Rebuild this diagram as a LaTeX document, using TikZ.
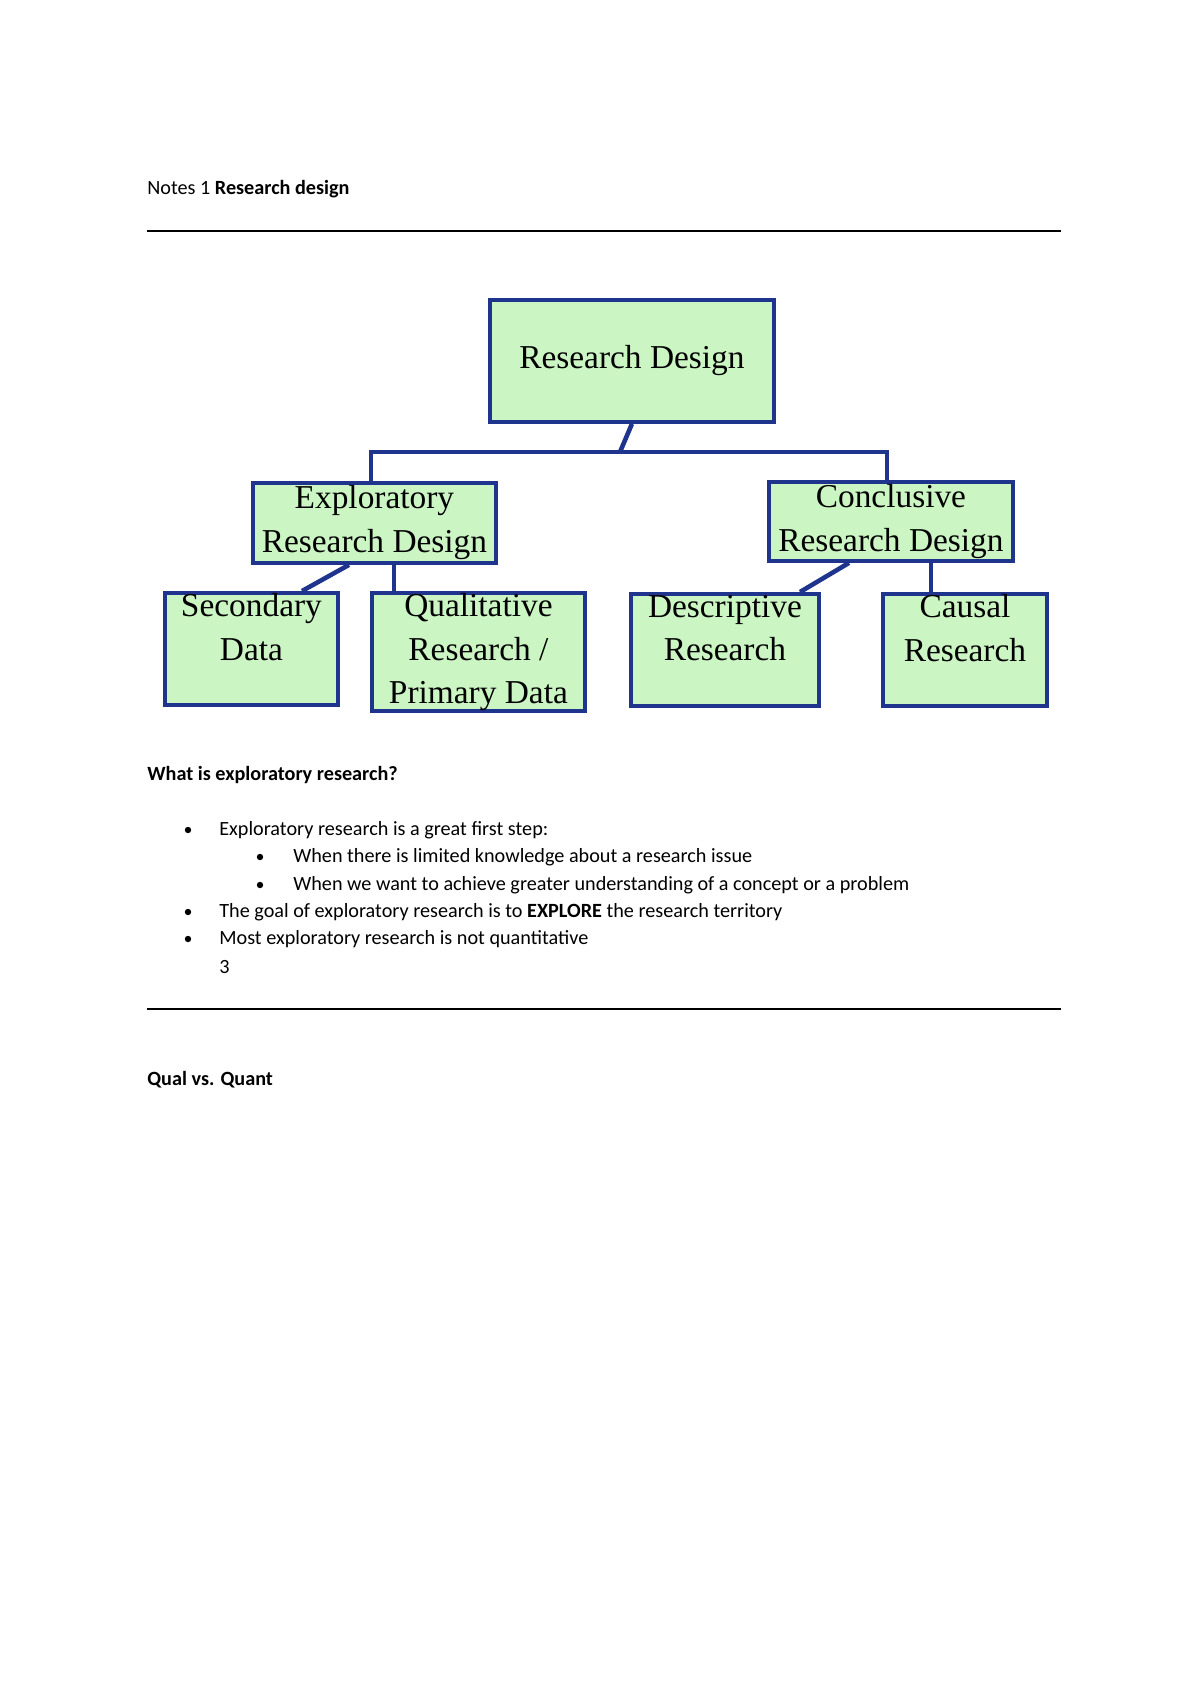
\documentclass[tikz,border=0pt]{standalone}
\usepackage{fontspec}
\setmainfont{Carlito}
\newfontfamily\boxfont{Liberation Serif}
\usetikzlibrary{calc}
\definecolor{boxgreen}{RGB}{204,245,196}
\definecolor{boxblue}{RGB}{31,52,140}

\begin{document}
\begin{tikzpicture}[x=0.02cm,y=-0.02cm,
    box/.style={draw=boxblue,line width=2.2pt,fill=boxgreen,align=center,inner sep=0pt,anchor=north west,font=\boxfont\fontsize{19}{25}\selectfont},
    link/.style={draw=boxblue,line width=2.6pt},
    txt/.style={anchor=west,inner sep=0pt,font=\fontsize{11.5}{14}\selectfont}]
    \useasboundingbox (0,0) rectangle (1200,1698);

    \node[txt] (title) at (147,189) {Notes 1 \textbf{Research design}};
    \draw[line width=0.8pt] (147,231) -- (1061,231);

    \node[box,minimum width=284*0.02cm,minimum height=122*0.02cm] (rd) at (488,298) {Research Design};
    \node[box,minimum width=243*0.02cm,minimum height=80*0.02cm] (expl) at (251,481) {Exploratory\\Research Design};
    \node[box,minimum width=244*0.02cm,minimum height=79*0.02cm] (concl) at (767,480) {Conclusive\\Research Design};
    \node[box,minimum width=173*0.02cm,minimum height=112*0.02cm] (sec) at (163,591) {Secondary\\Data\\\mbox{}};
    \node[box,minimum width=213*0.02cm,minimum height=112*0.02cm] (qual) at (370,591) {Qualitative\\Research /\\Primary Data};
    \node[box,minimum width=188*0.02cm,minimum height=112*0.02cm] (desc) at (629,592) {Descriptive\\Research\\\mbox{}};
    \node[box,minimum width=164*0.02cm,minimum height=112*0.02cm] (caus) at (881,592) {Causal\\Research\\\mbox{}};

    \coordinate (bus) at (620,452);
    \draw[link] (rd.south) -- (bus);
    \draw[link] (expl.north -| 371,0) |- (887,452) -- (concl.north -| 887,0);
    \draw[link] ($(expl.south west)+(98,0)$) -- ($(sec.north west)+(139,0)$);
    \draw[link] ($(expl.south west)+(143,0)$) -- ($(qual.north west)+(24,0)$);
    \draw[link] ($(concl.south west)+(82,0)$) -- ($(desc.north west)+(171,0)$);
    \draw[link] ($(concl.south west)+(164,0)$) -- ($(caus.north west)+(50,0)$);

    \node[txt] (q1) at (147,775) {\textbf{What is exploratory research?}};
    \foreach \bx/\tx/\ty/\str in {188/219/830/{Exploratory research is a great first step:},
        260/293/857/{When there is limited knowledge about a research issue},
        260/293/885/{When we want to achieve greater understanding of a concept or a problem},
        188/219/912/{The goal of exploratory research is to \textbf{EXPLORE} the research territory},
        188/219/939/{Most exploratory research is not quantitative}}
    {
        \fill (\bx,\ty) circle (3.2*0.02cm);
        \node[txt] at (\tx,\ty) {\str};
    }
    \node[txt] (pg) at (219,967) {3};
    \draw[line width=1.6pt] (147,1009) -- (1061,1009);
    \node[txt] (q2) at (147,1080) {\textbf{Qual vs. Quant}};
\end{tikzpicture}
\end{document}
